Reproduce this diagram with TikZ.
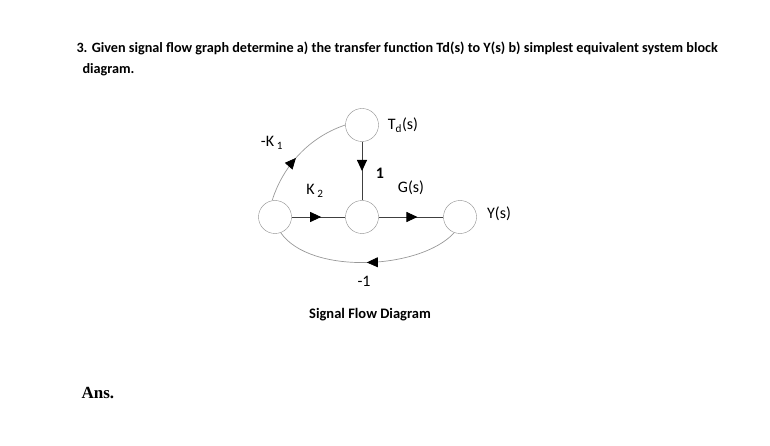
\documentclass[tikz,border=0pt]{standalone}
\usepackage{fontspec}
\setmainfont{Carlito}
\newfontfamily\ansfont{Liberation Serif}
\usetikzlibrary{decorations.markings,arrows.meta}
\begin{document}
\begin{tikzpicture}[x=1pt,y=-1pt,
  nd/.style={circle,draw=black!45,fill=white,minimum size=33pt,inner sep=0pt},
  midarr/.style={decoration={markings,mark=at position #1 with {\arrow[black]{Triangle[length=11pt,width=10pt]}}},postaction={decorate}},
  st/.style={draw=black!75,line width=0.9pt},
  cv/.style={draw=black!40,line width=0.7pt},
  lb/.style={font=\fontsize{16}{18}\selectfont}]
\useasboundingbox (0,0) rectangle (770,446);
\node[anchor=west,font=\fontsize{14.2}{16}\selectfont\bfseries] (q1) at (73,48) {3. Given signal flow graph determine a) the transfer function Td(s) to Y(s) b) simplest equivalent system block};
\node[anchor=west,font=\fontsize{14.2}{16}\selectfont\bfseries] (q2) at (79,70) {diagram.};
\node[nd] (t) at (362,125) {};
\node[nd] (l) at (275,217) {};
\node[nd] (m) at (362,217) {};
\node[nd] (r) at (460,217) {};
\draw[st,midarr=0.5] (t) -- (m);
\draw[st,midarr=0.55] (l) -- (m);
\draw[st,midarr=0.6] (m) -- (r);
\draw[cv,midarr=0.45] (l.100) .. controls (285,160) and (315,135) .. (t.180);
\draw[cv,midarr=0.5] (r.250) .. controls (420,270) and (310,275) .. (l.290);
\node[lb] (td) at (403,125) {T\textsubscript{d}(s)};
\node[lb] (k1) at (272,143) {-K\,\textsubscript{1}};
\node[lb,font=\fontsize{16}{18}\selectfont\bfseries] (one) at (380,173) {1};
\node[lb] (k2) at (315,191) {K\,\textsubscript{2}};
\node[lb] (g) at (411,188) {G(s)};
\node[lb] (y) at (499,214) {Y(s)};
\node[lb] (m1) at (364,281) {-1};
\node[font=\fontsize{14.5}{16}\selectfont\bfseries] (cap) at (370,315) {Signal Flow Diagram};
\node[anchor=west,font=\ansfont\fontsize{17}{19}\selectfont\bfseries] (ans) at (78,393) {Ans.};
\end{tikzpicture}
\end{document}
